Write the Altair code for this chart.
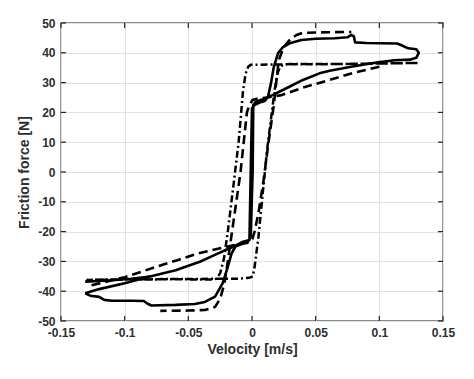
import altair as alt
import pandas as pd

# ---------------- data ----------------
x_ticks = [-0.15, -0.1, -0.05, 0, 0.05, 0.1, 0.15]
y_ticks = [-50, -40, -30, -20, -10, 0, 10, 20, 30, 40, 50]

# measured friction (solid line) - main loop
solid_x = [-0.131, -0.127, -0.120, -0.116, -0.110, -0.095, -0.085, -0.082, -0.079, -0.060,
           -0.045, -0.037, -0.029, -0.023, -0.019, -0.016, -0.013, -0.008, -0.004, -0.002,
           -0.001, 0.000, 0.002, 0.006, 0.010, 0.0126, 0.015, 0.017, 0.0204, 0.024,
           0.0296, 0.0388, 0.050, 0.065, 0.075, 0.078, 0.080, 0.081, 0.090, 0.100,
           0.114, 0.117, 0.1226, 0.129, 0.131, 0.129, 0.124, 0.112, 0.099, 0.079,
           0.061, 0.053, 0.040, 0.027, 0.0165, 0.0086, 0.003, 0.001, 0.0005, -0.001,
           -0.002, -0.007, -0.015, -0.030, -0.041, -0.060, -0.080, -0.100, -0.120, -0.131]
solid_y = [-40.7, -41.5, -41.9, -42.9, -43.2, -43.2, -43.3, -44.2, -44.8, -44.6,
           -44.3, -43.6, -41.8, -37.3, -31.8, -27.3, -25.0, -24.2, -23.5, -22.8,
           0.0, 21.4, 22.5, 23.3, 23.8, 25.3, 30.0, 35.0, 39.8, 41.8,
           43.2, 44.3, 44.7, 44.9, 45.2, 46.0, 45.5, 43.5, 43.3, 43.2,
           43.1, 42.6, 41.5, 41.2, 40.0, 38.3, 37.7, 37.5, 36.8, 35.4,
           34.0, 33.1, 30.9, 28.1, 25.9, 24.4, 23.6, 22.5, 0.0, -21.5,
           -22.8, -23.4, -25.1, -28.0, -30.1, -33.0, -35.1, -37.3, -39.3, -40.7]
# measured friction - short starting tail on the left
tail_x = [-0.131, -0.120, -0.110, -0.095, -0.080]
tail_y = [-36.8, -36.6, -36.3, -35.8, -35.1]

# model 1 (dashed) - two half loops
dashA_x = [0.100, 0.080, 0.060, 0.040, 0.023, 0.012, 0.004, 0.0005, -0.002, -0.004,
           -0.006, -0.009, -0.013, -0.017, -0.020, -0.022, -0.025, -0.029, -0.037, -0.050, -0.072]
dashA_y = [35.3, 33.3, 30.8, 28.3, 25.8, 25.0, 24.6, 24.2, 22.5, 20.0,
           12.0, 0.0, -12.0, -24.0, -33.0, -38.0, -42.5, -45.3, -46.3, -46.5, -46.6]
dashB_x = [-0.126, -0.100, -0.075, -0.058, -0.041, -0.019, -0.010, -0.004, 0.000, 0.002,
           0.005, 0.009, 0.013, 0.017, 0.019, 0.021, 0.025, 0.030, 0.035, 0.040, 0.060, 0.078]
dashB_y = [-38.0, -35.3, -31.8, -29.5, -27.2, -25.0, -24.2, -23.8, -23.0, -20.0,
           -14.0, -3.0, 10.0, 22.0, 30.0, 37.5, 42.0, 44.5, 46.0, 46.7, 46.9, 47.0]

# model 2 (dash-dot) - closed loop
dd_x = [0.130, 0.100, 0.060, 0.020, 0.004, -0.001, -0.003, -0.005, -0.007, -0.0105,
        -0.015, -0.019, -0.022, -0.025, -0.028, -0.032, -0.060, -0.100, -0.130, -0.100,
        -0.050, -0.010, -0.002, 0.0006, 0.002, 0.005, 0.0087, 0.012, 0.0178, 0.020,
        0.022, 0.025, 0.030, 0.060, 0.100, 0.130]
dd_y = [36.6, 36.4, 36.2, 36.1, 36.0, 36.0, 35.3, 33.0, 27.5, 10.0,
        -6.0, -20.0, -29.0, -34.0, -35.8, -36.1, -36.0, -36.1, -36.2, -36.0,
        -35.9, -35.8, -35.5, -35.0, -32.0, -22.0, -6.0, 8.0, 27.5, 33.0,
        35.3, 36.0, 36.2, 36.2, 36.4, 36.6]


def frame(xs, ys, seg):
    return pd.DataFrame({"x": xs, "y": ys, "seg": seg, "o": list(range(len(xs)))})


solid_df = pd.concat([frame(solid_x, solid_y, "main"), frame(tail_x, tail_y, "tail")])
dash_df = pd.concat([frame(dashA_x, dashA_y, "A"), frame(dashB_x, dashB_y, "B")])
dd_df = frame(dd_x, dd_y, "loop")

FONT = "Liberation Sans"
TXT = "#2e2e2e"

xscale = alt.Scale(domain=[-0.15, 0.15], nice=False, zero=False)
yscale = alt.Scale(domain=[-50, 50], nice=False, zero=False)

common = dict(ticks=False, domain=False, grid=True, gridColor="#e2e2e2",
              labelFont=FONT, labelFontSize=12, labelFontWeight="bold", labelColor=TXT,
              titleFont=FONT, titleFontSize=14, titleFontWeight="bold", titleColor=TXT,
              labelFlush=False, labelOverlap=False)
xaxis = alt.Axis(values=x_ticks, tickCount=len(x_ticks), title="Velocity [m/s]",
                 labelExpr="replace(format(datum.value, '.2~f'), '\u2212', '-')",
                 labelPadding=6, titlePadding=4, **common)
yaxis = alt.Axis(values=y_ticks, tickCount=len(y_ticks), title="Friction force [N]",
                 labelExpr="replace(format(datum.value, 'd'), '\u2212', '-')",
                 labelPadding=6, titlePadding=6, **common)

X = alt.X("x:Q", scale=xscale, axis=xaxis)
Y = alt.Y("y:Q", scale=yscale, axis=yaxis)

solid = alt.Chart(solid_df).mark_line(color="black", strokeWidth=2.6, strokeJoin="round").encode(
    x=X, y=Y, detail="seg:N", order="o:Q")
dashed = alt.Chart(dash_df).mark_line(color="black", strokeWidth=2.6, strokeDash=[9, 5]).encode(
    x=X, y=Y, detail="seg:N", order="o:Q")
dashdot = alt.Chart(dd_df).mark_line(color="black", strokeWidth=2.5, strokeDash=[7, 3, 2, 3]).encode(
    x=X, y=Y, detail="seg:N", order="o:Q")

# inward ticks on all four sides
xt = pd.DataFrame({"t": x_ticks})
yt = pd.DataFrame({"t": y_ticks})
tk = dict(color="#222", strokeWidth=1.2)
tick_b = alt.Chart(xt).mark_rule(**tk).encode(x=alt.X("t:Q", scale=xscale, axis=xaxis),
                                               y=alt.datum(-50), y2=alt.datum(-48.3))
tick_t = alt.Chart(xt).mark_rule(**tk).encode(x=alt.X("t:Q", scale=xscale, axis=xaxis),
                                               y=alt.datum(50), y2=alt.datum(48.3))
tick_l = alt.Chart(yt).mark_rule(**tk).encode(y=alt.Y("t:Q", scale=yscale, axis=yaxis),
                                               x=alt.datum(-0.15), x2=alt.datum(-0.1461))
tick_r = alt.Chart(yt).mark_rule(**tk).encode(y=alt.Y("t:Q", scale=yscale, axis=yaxis),
                                               x=alt.datum(0.15), x2=alt.datum(0.1461))

chart = alt.layer(dashdot, dashed, solid, tick_b, tick_t, tick_l, tick_r).properties(
    width=382, height=298,
    autosize=alt.AutoSizeParams(type="none"),
    padding={"left": 53, "top": 15, "right": 23, "bottom": 50},
    background="white",
).configure_view(stroke="#1a1a1a", strokeWidth=1.3)

chart.save("out.html", embed_options={"renderer": "svg", "actions": False})
